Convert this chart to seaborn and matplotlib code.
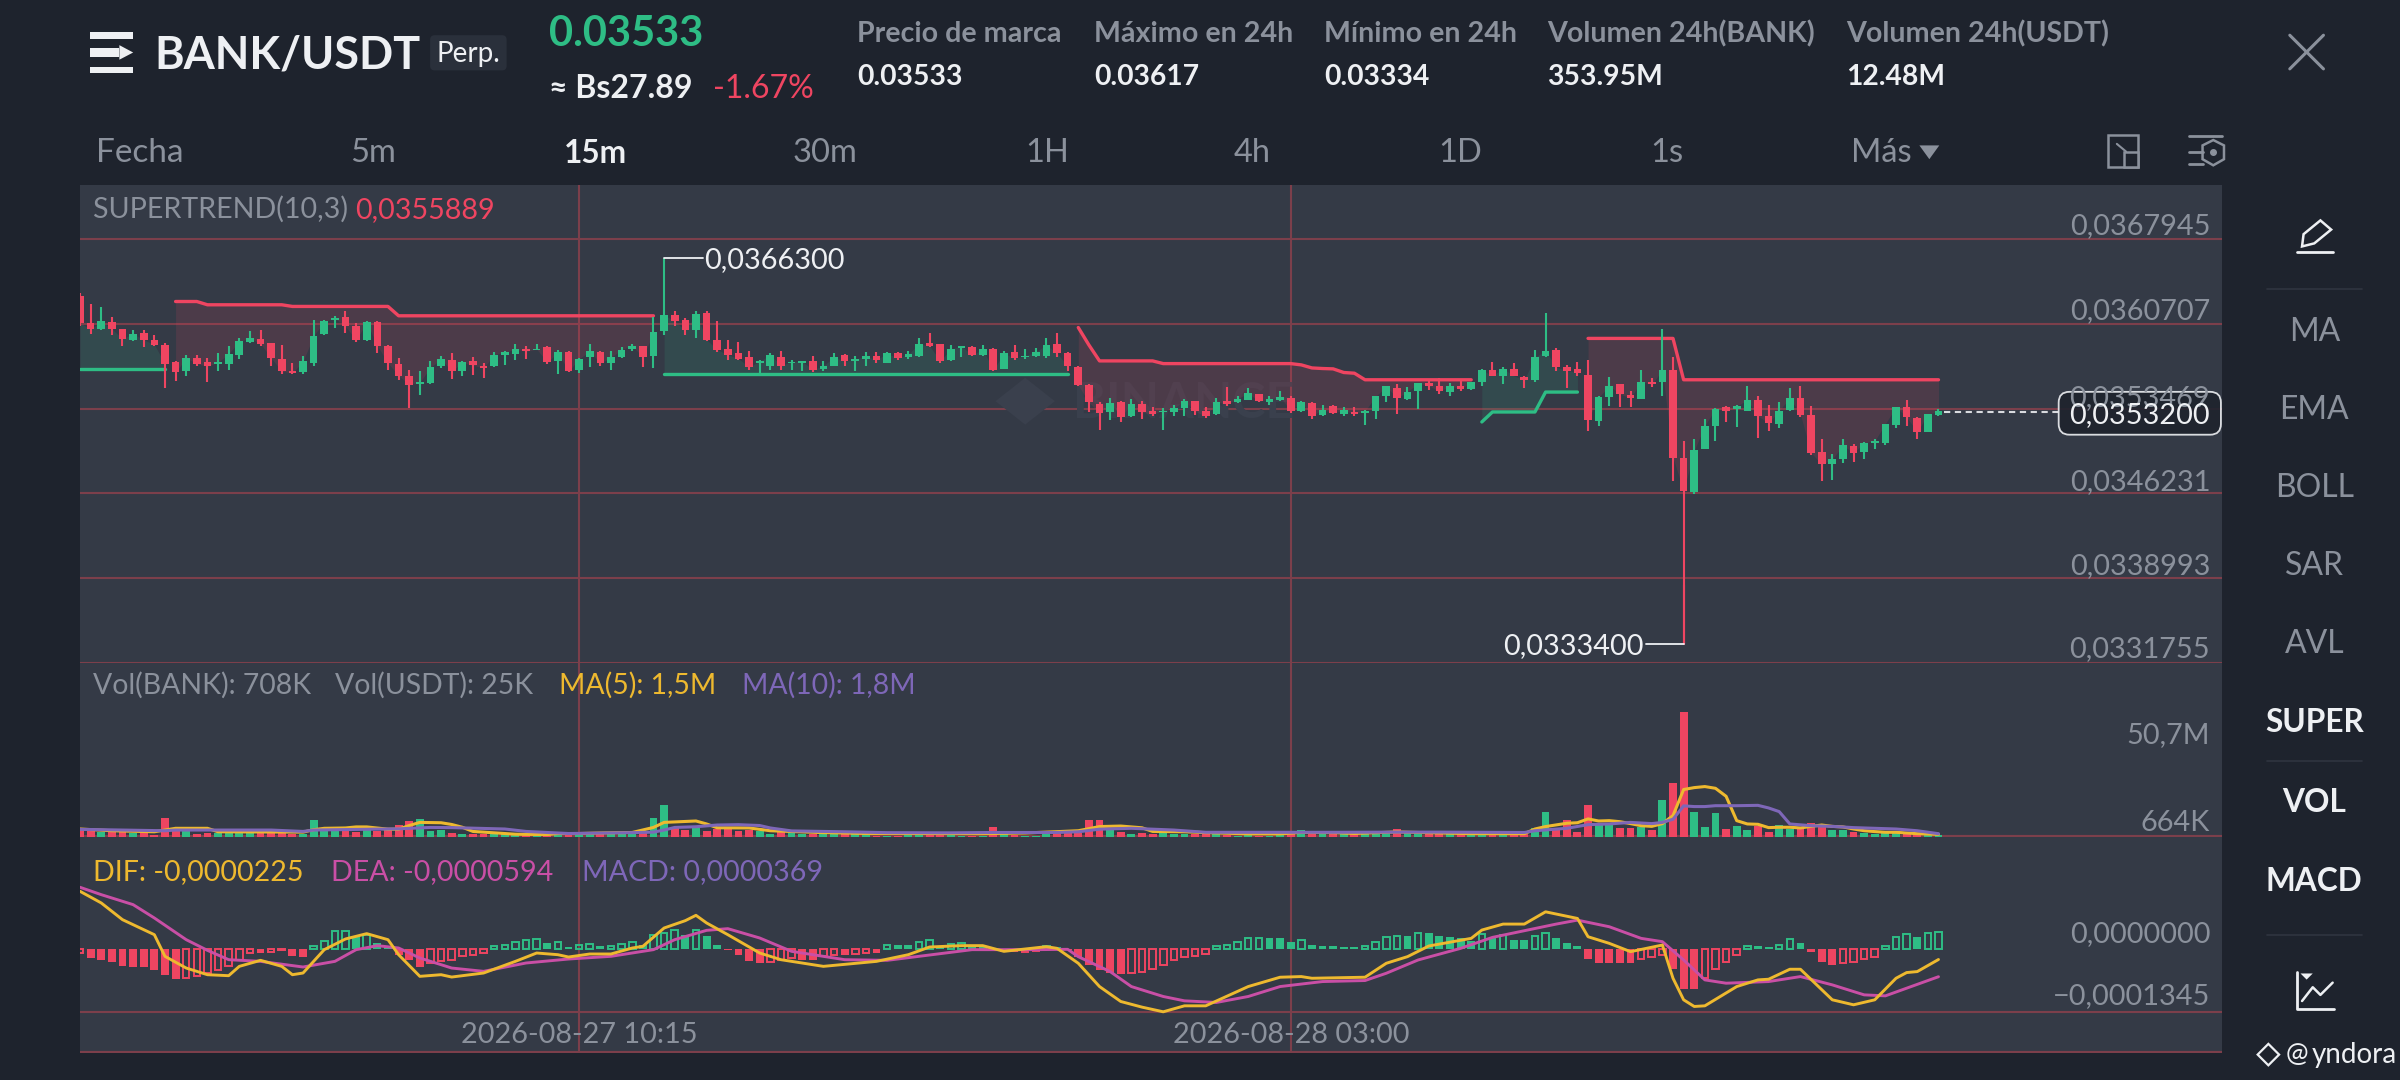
import matplotlib
matplotlib.use("Agg")
import matplotlib.pyplot as plt
import numpy as np
import seaborn as sns
from matplotlib.patches import FancyBboxPatch, Rectangle, Polygon

# ---------- DATA (prices in 1e-6, volume in millions, MACD in 1e-7) ----------
direction = ("RRGRRGRRRR" "GRRGGGGRRR" "RGGGGRRGRR" "RRGGGRGRRG" "GGRGRGRGGR"
             "GGGRGGRRGR" "RRRRGGRGGR" "GGRGGRGRGG" "RRGGRGRGRG" "GGRRRRRGRG"
             "RRGGGRRGRG" "GRGGRGRGRG" "RGGGRGGRRG" "RGGRGRRGGR" "RRRGGRRGRG"
             "RRGGGRGGRR" "GGRRRGGRGG" "GGRRGG")
high = [36332,36241,36213,36125,36028,36020,36020,35977,35906,35756,
        35807,35807,35779,35821,35878,35949,36006,36020,35906,35892,
        35736,35793,36099,36099,36139,36176,36077,36091,36097,35892,
        35779,35679,35665,35756,35793,35821,35750,35784,35736,35827,
        35835,35901,35884,35898,35878,35850,35835,35779,35901,35835,
        35835,35869,35901,35878,36133,36630,36184,36119,36176,36176,
        36091,35935,35912,35835,35764,35821,35835,35764,35753,35793,
        35750,35821,35816,35793,35827,35827,35833,35833,35841,35946,
        35989,35898,35890,35881,35881,35890,35861,35841,35890,35853,
        35867,35946,35989,35833,35711,35556,35400,35437,35409,35429,
        35409,35361,35352,35380,35429,35409,35358,35437,35530,35457,
        35522,35474,35451,35499,35457,35414,35403,35380,35380,35361,
        35361,35332,35451,35542,35559,35530,35564,35584,35607,35564,
        35584,35578,35683,35748,35706,35740,35627,35847,36167,35861,
        35720,35748,35762,35457,35615,35559,35499,35677,35607,36028,
        35785,35069,35089,35259,35352,35366,35380,35542,35451,35380,
        35400,35522,35542,35372,35084,34956,35089,35041,35061,35089,
        35219,35361,35417,35273,35301,35344]
body_top = [36304,36077,36091,36082,36028,35986,35992,35935,35892,35742,
        35779,35779,35742,35742,35816,35921,35949,35940,35906,35770,
        35665,35750,35969,36091,36119,36133,36054,36082,36082,35878,
        35730,35628,35571,35699,35770,35764,35742,35750,35713,35807,
        35827,35855,35855,35855,35869,35827,35827,35773,35835,35827,
        35784,35850,35884,35878,35997,36148,36148,36099,36156,36167,
        35935,35858,35821,35787,35750,35807,35787,35747,35750,35750,
        35713,35787,35804,35770,35793,35793,35819,35819,35813,35898,
        35909,35898,35856,35878,35875,35853,35856,35819,35833,35796,
        35833,35890,35898,35819,35706,35550,35389,35395,35400,35386,
        35389,35330,35330,35352,35414,35409,35324,35403,35409,35431,
        35479,35471,35431,35446,35437,35403,35397,35338,35366,35332,
        35321,35327,35451,35536,35522,35491,35564,35564,35542,35542,
        35542,35573,35677,35677,35689,35689,35615,35785,35841,35847,
        35700,35683,35635,35443,35542,35553,35462,35578,35578,35677,
        35677,34928,34990,35202,35347,35358,35366,35423,35423,35282,
        35330,35437,35437,35290,34979,34914,35033,35027,35055,35072,
        35219,35361,35361,35267,35299,35324]
body_bottom = [36077,36026,36026,36026,35943,35929,35935,35892,35730,35657,
        35671,35730,35708,35730,35730,35807,35912,35901,35779,35665,
        35651,35657,35736,35983,36105,36048,35935,35935,35884,35736,
        35628,35552,35560,35566,35708,35665,35665,35716,35694,35713,
        35807,35816,35835,35844,35742,35750,35665,35679,35784,35736,
        35736,35784,35855,35784,35793,36006,36091,36014,36020,35935,
        35850,35807,35773,35702,35736,35708,35713,35736,35736,35679,
        35685,35713,35750,35750,35770,35764,35740,35776,35791,35796,
        35881,35754,35762,35867,35805,35805,35677,35689,35776,35785,
        35796,35796,35819,35711,35547,35400,35310,35318,35276,35282,
        35315,35301,35315,35315,35349,35324,35282,35301,35386,35400,
        35423,35409,35400,35423,35330,35330,35287,35293,35310,35304,
        35304,35310,35324,35451,35437,35429,35494,35542,35494,35491,
        35513,35513,35570,35629,35621,35627,35593,35587,35796,35700,
        35672,35655,35253,35239,35443,35471,35437,35431,35553,35570,
        34928,34645,34631,35004,35202,35324,35344,35330,35282,35225,
        35219,35332,35296,34970,34871,34871,34914,34970,34979,35050,
        35050,35205,35273,35149,35151,35296]
low = [36048,35986,36014,35972,35878,35926,35869,35878,35523,35586,
        35623,35708,35571,35665,35679,35770,35906,35884,35708,35645,
        35642,35642,35713,35977,36034,35992,35915,35921,35821,35674,
        35589,35353,35461,35557,35694,35603,35623,35637,35608,35702,
        35722,35764,35773,35844,35730,35642,35657,35651,35702,35713,
        35674,35779,35835,35702,35694,35977,36048,35972,35949,35921,
        35827,35764,35764,35679,35651,35679,35679,35674,35671,35657,
        35665,35708,35713,35665,35708,35736,35734,35762,35768,35785,
        35870,35734,35757,35785,35796,35796,35672,35683,35762,35768,
        35785,35776,35785,35672,35542,35318,35163,35253,35231,35276,
        35259,35287,35168,35282,35282,35296,35267,35296,35366,35395,
        35417,35403,35380,35409,35310,35318,35259,35287,35301,35282,
        35287,35205,35259,35400,35304,35423,35347,35508,35474,35457,
        35494,35508,35542,35621,35559,35621,35519,35570,35791,35672,
        35522,35621,35154,35202,35366,35361,35361,35431,35528,35457,
        34730,33340,34617,34999,35069,35231,35191,35324,35098,35154,
        35183,35330,35276,34948,34730,34736,34886,34891,34914,35004,
        35035,35183,35202,35084,35149,35282]

# Supertrend stretches, in candle order
st_green_1 = [35688]*9
st_red_1 = [36261]*3 + [36233]*8 + [36219]*10 + [36139]*25
st_green_2 = [35645]*39
st_red_2 = [36039,35890] + [35754]*6 + [35731]*13 + [35720,35694,35689,35686,35655,35649] + [35593]*11
st_green_3 = [35233] + [35318]*5 + [35488]*4
st_red_3 = [35946]*9 + [35593]*25

volume = [3.8,3.4,2.9,3.1,3.3,2.5,2.7,1.0,10.8,3.8,
          3.5,1.9,2.3,2.3,2.3,2.3,2.7,2.7,2.9,2.7,
          1.7,1.7,10.0,3.5,3.5,3.5,3.1,3.8,3.6,3.8,
          6.9,9.0,10.2,3.5,4.0,2.5,1.5,1.5,1.5,1.5,
          1.5,1.5,1.7,0.6,1.5,2.7,1.7,1.5,3.1,1.7,
          2.3,2.5,2.5,3.5,11.1,18.6,5.4,4.2,5.4,3.5,
          4.8,4.8,3.6,4.2,3.5,1.9,2.7,2.5,1.9,1.9,
          1.7,1.7,1.7,1.5,1.5,0.4,0.4,0.4,1.0,1.2,
          1.2,1.2,1.3,0.4,0.4,0.4,5.8,1.5,1.3,0.4,
          0.4,3.1,3.6,2.1,2.5,10.0,9.6,3.8,2.7,1.5,
          2.3,1.5,2.3,1.9,1.5,1.9,1.5,1.5,1.0,0.6,
          1.3,0.4,0.4,1.2,3.1,4.2,1.9,1.9,2.1,1.9,
          1.9,2.7,2.7,2.7,4.6,2.3,2.7,1.9,1.7,1.5,
          1.5,1.5,1.5,1.3,1.5,1.9,1.9,5.2,14.4,3.8,
          10.0,2.9,18.6,6.7,7.1,5.2,5.2,5.8,4.2,21.1,
          31.3,71.6,14.2,6.0,14.0,4.6,6.5,4.2,6.3,2.9,
          6.7,4.8,4.8,8.1,6.7,3.8,4.2,3.1,2.5,1.9,
          2.5,2.5,1.9,1.9,1.9,1.0]

ma5_i = [0,3,7,8,9,12,13,21,22,23,25,26,27,29,30,31,32,34,35,36,37,39,41,42,44,45,47,49,51,52,54,55,58,59,60,63,65,70,74,80,85,89,94,96,98,100,101,104,106,110,113,115,118,120,124,128,131,136,137,138,140,141,142,143,144,145,146,147,148,149,150,151,152,153,154,155,156,157,158,159,160,161,162,163,164,165,166,167,168,169,170,171,172,173,174,175]
ma5_v = [4.6,3.6,3.0,4.0,5.0,5.0,3.0,2.8,4.2,5.0,5.2,5.8,5.8,4.5,4.5,6.6,8.4,8.2,7.2,5.6,3.2,2.4,1.6,1.5,1.4,2.0,2.0,2.3,2.5,2.6,5.5,8.4,9.2,7.5,5.3,5.2,3.6,2.5,2.0,2.0,1.9,2.3,3.6,6.0,6.3,5.3,3.2,3.0,2.5,1.8,1.8,2.6,2.5,2.0,2.9,2.3,1.9,1.9,4.6,6.0,7.9,8.2,10.4,9.2,9.4,8.8,7.7,6.5,6.1,7.7,12.3,27.3,28.4,29.0,28.0,23.4,9.4,7.5,7.3,5.4,5.6,5.6,5.2,6.1,6.9,6.1,5.8,4.6,3.6,3.1,2.7,2.7,2.3,1.9,1.7,1.5]
ma10_i = [0,8,9,18,21,22,30,33,35,40,42,46,52,54,55,56,58,60,62,64,65,67,72,76,82,86,92,94,96,99,103,106,110,114,118,124,128,136,137,140,142,144,146,148,149,150,151,152,153,154,156,158,159,160,161,163,165,167,169,171,173,175]
ma10_v = [4.4,3.6,4.0,4.0,3.2,4.0,4.7,5.5,5.4,4.6,3.2,2.0,2.5,2.8,4.0,5.5,5.9,6.9,7.1,6.6,5.2,3.5,3.0,2.5,2.4,2.6,2.6,3.0,4.5,5.0,4.0,2.7,2.7,2.7,2.7,2.8,2.8,2.6,3.6,5.0,7.1,7.5,8.4,7.7,8.4,10.2,17.9,17.5,17.5,18.0,18.0,18.2,16.7,14.6,7.5,6.5,6.1,5.4,5.0,4.6,3.6,1.9]

dif_i = [0,2,4,7,8,10,12,14,15,17,19,20,21,23,25,26,27,29,30,32,34,35,38,41,43,45,46,48,50,52,53,55,57,58,59,61,64,66,70,75,78,80,83,85,87,91,92,94,96,98,100,102,104,106,110,113,115,116,121,123,125,127,131,132,134,136,138,141,142,144,146,149,150,151,152,153,156,158,159,161,162,165,167,169,171,172,173,175]
dif_v = [1237,987,629,307,-157,-408,-551,-572,-372,-243,-372,-551,-515,-14,215,272,329,200,-122,-586,-551,-601,-515,-265,-86,-122,-172,-107,-107,21,57,450,608,722,558,307,-86,-229,-372,-265,-122,43,72,72,-50,50,14,-306,-805,-1125,-1246,-1346,-1218,-1218,-805,-605,-591,-627,-605,-306,-164,64,228,406,534,534,797,655,263,121,-57,85,-627,-1089,-1232,-1218,-805,-662,-648,-434,-434,-1089,-1196,-1089,-627,-505,-484,-225]
dea_i = [0,2,5,7,10,12,14,17,21,24,26,28,30,32,35,38,42,46,50,54,56,59,61,64,67,72,76,79,84,90,93,94,97,99,102,104,107,110,113,117,121,123,126,130,133,136,139,141,144,147,149,151,153,155,159,162,165,168,170,172,175]
dea_v = [1323,1165,951,665,200,-29,-229,-265,-386,-265,-14,72,21,-193,-408,-479,-300,-215,-157,-14,200,400,436,236,-50,-229,-243,-157,-14,-14,-7,-164,-484,-805,-1018,-1111,-1146,-1018,-805,-698,-676,-520,-235,14,249,392,534,619,477,228,157,-235,-662,-733,-698,-591,-769,-983,-1004,-840,-594]
macd = [-86,-193,-229,-286,-358,-386,-386,-443,-551,-644,
        -622,-586,-515,-458,-358,-229,-86,-86,-72,-29,
        -157,-172,72,164,379,393,272,307,129,72,
        -122,-229,-386,-300,-265,-229,-157,-122,-86,72,
        93,143,186,215,129,143,43,86,100,57,
        72,114,143,93,307,343,415,307,415,272,
        93,-29,-122,-265,-300,-286,-229,-193,-229,-229,
        -157,-122,-122,-100,-86,-86,93,93,93,157,
        186,72,114,129,93,57,-36,-57,-64,-57,
        -36,64,50,-21,-164,-342,-449,-520,-534,-520,
        -484,-434,-342,-235,-164,-142,-107,71,85,157,
        228,242,242,242,142,192,85,71,64,43,
        43,71,157,263,278,278,349,349,278,249,
        228,178,313,249,299,192,192,278,335,228,
        135,64,-221,-306,-306,-306,-306,-221,-164,-128,
        -434,-862,-862,-627,-434,-271,-128,71,71,36,
        85,206,135,-57,-271,-342,-306,-271,-221,-164,
        64,249,320,263,349,369]

price_ticks = [36794.5, 36070.7, 35346.9, 34623.1, 33899.3, 33175.5]
price_labels = ["0,0367945", "0,0360707", "0,0353469", "0,0346231", "0,0338993", "0,0331755"]
high_label, low_label, last_label = "0,0366300", "0,0333400", "0,0353200"
last_price = 35320
time_idx = [47, 114]
time_labels = ["2026-08-27 10:15", "2026-08-28 03:00"]

stats = [("Precio de marca", "0.03533"), ("Máximo en 24h", "0.03617"), ("Mínimo en 24h", "0.03334"),
         ("Volumen 24h(BANK)", "353.95M"), ("Volumen 24h(USDT)", "12.48M")]
periods = ["5m", "15m", "30m", "1H", "4h", "1D", "1s"]
side_items = ["MA", "EMA", "BOLL", "SAR", "AVL", "SUPER", "VOL", "MACD"]

n = len(high)
for arr in (direction, body_top, body_bottom, low, volume, macd):
    assert len(arr) == n, len(arr)
assert len(st_green_1+st_red_1+st_green_2+st_red_2+st_green_3+st_red_3) == n
assert len(ma5_i) == len(ma5_v) and len(ma10_i) == len(ma10_v)
assert len(dif_i) == len(dif_v) and len(dea_i) == len(dea_v)

# ---------- STYLE ----------
BG, PANEL = "#1e232d", "#343a46"
GRID = "#7c3f4b"
GREEN, RED = "#2ebd85", "#ef4561"
YEL, PINK, PURP = "#eeb92f", "#c94fa6", "#7e67b8"
GREY, WHITE = "#8b919c", "#eef0f3"

sns.set_theme(style="dark")
plt.rcParams["font.family"] = ["Lato", "DejaVu Sans"]

W, H = 2400, 1080
fig = plt.figure(figsize=(W/100, H/100), dpi=100, facecolor=BG)
def pane(top, bottom):
    a = fig.add_axes([80/W, 1-bottom/H, (2222-80)/W, (bottom-top)/H], facecolor=PANEL)
    a.set_xticks([]); a.set_yticks([])
    a.grid(False)
    for s in a.spines.values():
        s.set_visible(False)
    a.set_xlim(-0.0, (2222-80)/10.62)
    return a
axp, axv, axm = pane(185, 663), pane(663, 837), pane(837, 1053)

px_per_unit = 84.8/723.8
axp.set_ylim(33175.5, 36794.5 + 54/px_per_unit)
vol_per_px = 0.575
axv.set_ylim(0, 174*vol_per_px)
macd_per_px = 1345/62.75
axm.set_ylim(-(1053-949)*macd_per_px, (949-837)*macd_per_px)

xs = np.arange(n)
colors = [GREEN if d == "G" else RED for d in direction]

# grid + crosshair verticals
for t in price_ticks:
    axp.axhline(t, color=GRID, lw=1.5, zorder=1)
axm.axhline(-1345, color=GRID, lw=1.5, zorder=1)
axv.axhline(0, color=GRID, lw=3, zorder=1)
axm.axhline(axm.get_ylim()[0], color=GRID, lw=3, zorder=1)
for a in (axp, axv, axm):
    for t in time_idx:
        a.axvline(t, color=GRID, lw=1.5, zorder=1)

# watermark
axp.text(93.5, 35390, "BINANCE", color="#3a404d", fontsize=36, fontweight="bold", ha="left", va="center", zorder=1.5)
axp.add_patch(Polygon([[86.2, 35410], [89, 35610], [91.8, 35410], [89, 35210]], fc="#3a404d", lw=0, zorder=1.5))

# supertrend
closes = [bt if d == "G" else bb for d, bt, bb in zip(direction, body_top, body_bottom)]
start = 0
for vals, col in [(st_green_1, GREEN), (st_red_1, RED), (st_green_2, GREEN), (st_red_2, RED), (st_green_3, GREEN), (st_red_3, RED)]:
    idx = np.arange(start, start+len(vals))
    axp.fill_between(idx, vals, np.array(closes)[idx], color=col, alpha=0.13, lw=0, zorder=2)
    sns.lineplot(x=idx, y=vals, ax=axp, color=col, lw=2.4, estimator=None, errorbar=None, zorder=3, legend=False)
    start += len(vals)

# candles
axp.vlines(xs, low, high, colors=colors, lw=1.5, zorder=4)
heights = np.maximum(np.array(body_top)-np.array(body_bottom), 8)
axp.bar(xs, heights, bottom=body_bottom, width=0.72, color=colors, lw=0, zorder=5)
axp.set_xlim(-0.0, (2222-80)/10.62)
axp.set_ylim(33175.5, 36794.5 + 54/px_per_unit)
axp.set_xlabel(""); axp.set_ylabel("")

# hi/lo marks + last price
imax, imin = int(np.argmax(high)), int(np.argmin(low))
axp.plot([imax, imax+3.7], [high[imax], high[imax]], color=WHITE, lw=1.3, zorder=6)
axp.plot([imin-3.5, imin], [low[imin], low[imin]], color=WHITE, lw=1.3, zorder=6)
axp.plot([imin, imin], [low[imin], low[imin]+500], color=RED, lw=1.5, zorder=4)
axp.plot([n-1+0.5, 186.5], [last_price, last_price], color="#d8dade", lw=1.5, ls=(0, (3, 2.2)), zorder=6)

# volume
axv.bar(xs, volume, width=0.74, color=colors, lw=0, zorder=3)
sns.lineplot(x=ma5_i, y=ma5_v, ax=axv, color=YEL, lw=2.2, estimator=None, errorbar=None, zorder=4, legend=False)
sns.lineplot(x=ma10_i, y=ma10_v, ax=axv, color=PURP, lw=2.2, estimator=None, errorbar=None, zorder=5, legend=False)
axv.set_xlim(-0.0, (2222-80)/10.62); axv.set_ylim(0, 174*vol_per_px)
axv.set_xlabel(""); axv.set_ylabel("")

# MACD histogram (hollow while rising, solid while falling)
m = np.array(macd)
prev = np.r_[m[0]-1, m[:-1]]
for i in range(n):
    col = GREEN if m[i] >= 0 else RED
    hollow = m[i] > prev[i]
    if hollow:
        axm.bar(i, m[i], width=0.62, facecolor="none", edgecolor=col, lw=1.4, zorder=3)
    else:
        axm.bar(i, m[i], width=0.74, color=col, lw=0, zorder=3)
sns.lineplot(x=dea_i, y=dea_v, ax=axm, color=PINK, lw=2.1, estimator=None, errorbar=None, zorder=4, legend=False)
sns.lineplot(x=dif_i, y=dif_v, ax=axm, color=YEL, lw=2.1, estimator=None, errorbar=None, zorder=5, legend=False)
axm.set_xlim(-0.0, (2222-80)/10.62)
axm.set_ylim(-(1053-949)*macd_per_px, (949-837)*macd_per_px)
axm.set_xlabel(""); axm.set_ylabel("")

# ---------- OVERLAY TEXT (screen layout, in reference display units) ----------
ov = fig.add_axes([0, 0, 1, 1], facecolor="none", zorder=20)
ov.set_xlim(0, 1568); ov.set_ylim(1080*1568/2400, 0); ov.axis("off")
def T(x, y, s, size, color=GREY, ha="left", weight="normal", **k):
    return ov.text(x, y+1, s, fontsize=size, color=color, ha=ha, va="center", fontweight=weight, **k)

# header
for y0, y1, x1 in [(21, 25.5, 87), (43.5, 48, 87), (31.5, 37, 78)]:
    ov.add_patch(Rectangle((59, y0), x1-59, y1-y0, color=WHITE, lw=0))
ov.add_patch(Polygon([[78, 29.5], [87, 34.3], [78, 39]], color=WHITE, lw=0))
T(101, 35, "BANK/USDT", 32.3, WHITE, weight="bold")
ov.add_patch(FancyBboxPatch((281, 23), 50, 23, boxstyle="round,pad=0,rounding_size=3", color="#2a303b", lw=0))
T(306, 34, "Perp.", 20, WHITE, ha="center")
T(359, 21, "0.03533", 30, GREEN, weight="bold")
T(359, 57, "≈ Bs27.89", 23, WHITE, weight="bold")
T(466, 57, "-1.67%", 23, RED)
for x, (a, b) in zip([560, 715, 865, 1011, 1206], stats):
    T(x, 21, a, 20.6, GREY, weight="bold")
    T(x, 49, b, 20.3, WHITE, weight="bold")
ov.plot([1496, 1518], [23, 45], color=GREY, lw=2.2)
ov.plot([1518, 1496], [23, 45], color=GREY, lw=2.2)

# toolbar
T(63, 99, "Fecha", 24)
for x, p in zip([244, 389, 539, 684, 818, 954, 1089], periods):
    T(x, 99, p, 22.8 if p == "15m" else 23.5, WHITE if p == "15m" else GREY, ha="center", weight="bold" if p == "15m" else "normal")
T(1209, 99, "Más", 23.5)
ov.add_patch(Polygon([[1254, 95], [1267, 95], [1260.5, 104]], color=GREY, lw=0))
ov.add_patch(Rectangle((1377, 88), 20, 21, fill=False, ec=GREY, lw=1.8))
ov.add_patch(Rectangle((1388, 99), 9, 10, fc=BG, ec=GREY, lw=1.8))
ov.plot([1383, 1389], [94, 99], color=GREY, lw=1.5)
ov.plot([1430, 1452], [89, 89], color=GREY, lw=2)
ov.plot([1430, 1439], [99, 99], color=GREY, lw=2)
ov.plot([1430, 1439], [107, 107], color=GREY, lw=2)
ov.add_patch(Polygon([[1446, 91.5], [1453, 95], [1453, 104], [1446, 108], [1439, 104], [1439, 95]], fill=False, ec=GREY, lw=1.8))
ov.plot([1446], [99.5], "o", ms=4, color=GREY)

# indicator captions
T(61, 136, "SUPERTREND(10,3)", 20.6)
T(232, 136, "0,0355889", 20.6, RED)
T(61, 447, "Vol(BANK): 708K", 20.4)
T(219, 447, "Vol(USDT): 25K", 20.4)
T(365, 447, "MA(5): 1,5M", 20.4, YEL)
T(485, 447, "MA(10): 1,8M", 20.4, PURP)
T(61, 569, "DIF: -0,0000225", 20.6, YEL)
T(216, 569, "DEA: -0,0000594", 20.6, PINK)
T(380, 569, "MACD: 0,0000369", 20.6, PURP)

# y labels
for y, s in zip([147, 202, 259, 314, 369, 423], price_labels):
    T(1444, y, s, 20.8, GREY, ha="right")
T(1444, 479, "50,7M", 20.8, GREY, ha="right")
T(1444, 537, "664K", 20.8, GREY, ha="right")
T(1444, 609, "0,0000000", 20.8, GREY, ha="right")
T(1444, 650, "−0,0001345", 20.8, GREY, ha="right")

# last price tag
ov.add_patch(FancyBboxPatch((1345, 256), 106, 28, boxstyle="round,pad=0,rounding_size=7", fc=BG, ec=WHITE, lw=1.3, alpha=0.9))
T(1444, 270, last_label, 20.8, WHITE, ha="right")

# hi/lo labels
T(460, 169, high_label, 20.8, WHITE)
T(1074, 421, low_label, 20.8, WHITE, ha="right")

# time labels
for x, s in zip([378.5, 843.5], time_labels):
    T(x, 675, s, 20.8, GREY, ha="center")

# side bar
ov.plot([1501, 1524], [164.5, 164.5], color=WHITE, lw=2)
ov.add_patch(Polygon([[1504, 161], [1505, 153], [1516, 144], [1523, 150], [1512, 159]], fill=False, ec=WHITE, lw=1.8))
for y in [189, 497, 611]:
    ov.plot([1481, 1543], [y, y], color="#2f3540", lw=1.2)
for y, s in zip([216, 267, 318, 369, 420, 471, 523, 575], side_items):
    active = s in ("SUPER", "VOL", "MACD")
    T(1512, y, s, 23 if not active else 22.8, WHITE if active else GREY, ha="center", weight="bold" if active else "normal")
ov.plot([1501, 1501, 1525], [635, 659, 659], color=WHITE, lw=2)
ov.plot([1504, 1511, 1516, 1524], [654, 645, 650, 642], color=WHITE, lw=1.8)
ov.add_patch(Polygon([[1503, 636], [1511, 636], [1507, 640]], color=WHITE, lw=0))

# footer credit
ov.add_patch(Polygon([[1482, 682], [1489, 689], [1482, 696], [1475, 689]], fill=False, ec=WHITE, lw=1.6))
T(1493, 688, "@", 19.5, WHITE)
T(1510, 688, "yndora", 20, WHITE)

fig.savefig("out.png", dpi=100, facecolor=BG)
